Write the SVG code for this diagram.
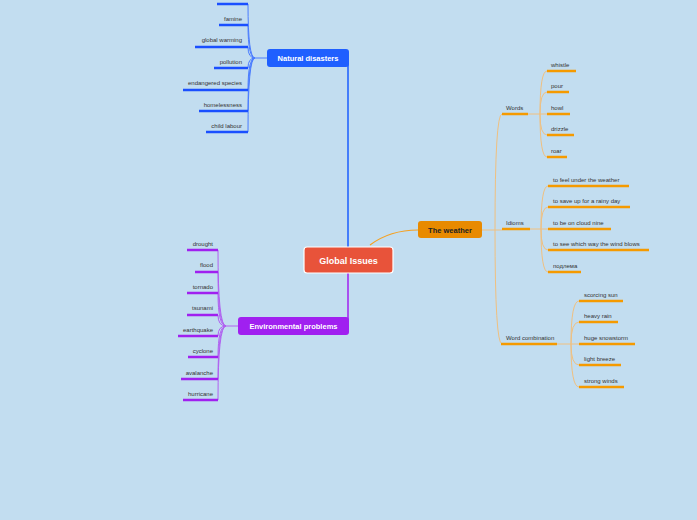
<svg xmlns="http://www.w3.org/2000/svg" width="697" height="520" viewBox="0 0 697 520">
<style>
text{font-family:"Liberation Sans",Arial,sans-serif;font-size:6px;fill:#333}
.b{stroke:#1a4fff;stroke-width:2.5;fill:none}
.p{stroke:#a020f0;stroke-width:2.5;fill:none}
.o{stroke:#f59a00;stroke-width:2.5;fill:none}
.bl{stroke:#4a7cff;stroke-width:1;fill:none}
.pl{stroke:#b060f0;stroke-width:1;fill:none}
.ol{stroke:#f0c080;stroke-width:1;fill:none}
.r{text-anchor:end}
.t{font-weight:bold;font-size:7.5px;fill:#fff;text-anchor:middle}
</style>
<rect width="697" height="520" fill="#c2ddf0"/>
<g id="connectors">
<path d="M348 247V58" stroke="#1a5cff" stroke-width="1.5" fill="none"/>
<path d="M348 273V326" stroke="#a020f0" stroke-width="1.5" fill="none"/>
<path d="M370 245Q390 230 418 230" stroke="#f5a020" stroke-width="1.2" fill="none"/>
<path class="bl" d="M267 58H255M255 58Q248 58 248 4M255 58Q248 58 248 25M255 58Q248 58 248 47M255 58Q248 58 248 68M255 58Q248 58 248 90M255 58Q248 58 248 111M255 58Q248 58 248 132"/>
<path class="pl" d="M238 326H226M226 326Q218 326 218 250M226 326Q218 326 218 272M226 326Q218 326 218 293M226 326Q218 326 218 315M226 326Q218 326 218 336M226 326Q218 326 218 357M226 326Q218 326 218 379M226 326Q218 326 218 400"/>
<path class="ol" d="M482 230H495M495 230Q495 114 502 114M495 230H502M495 230Q495 344 502 344"/>
<path class="ol" d="M528 114H540M540 114Q540 71 547 71M540 114Q540 92 547 92M540 114H547M540 114Q540 135 547 135M540 114Q540 157 547 157"/>
<path class="ol" d="M530 229H541M541 229Q541 186 548 186M541 229Q541 207 548 207M541 229H548M541 229Q541 250 548 250M541 229Q541 272 548 272"/>
<path class="ol" d="M557 344H571M571 344Q571 301 579 301M571 344Q571 322 579 322M571 344H579M571 344Q571 365 579 365M571 344Q571 387 579 387"/>
<path class="b" d="M217 4H248M219 25H248M195 47H248M214 68H248M183 90H248M199 111H248M206 132H248"/>
<path class="p" d="M187 250H218M195 272H218M187 293H218M187 315H218M178 336H218M188 357H218M181 379H218M183 400H218"/>
<path class="o" d="M502 114H528M502 229H530M501 344H557"/>
<path class="o" d="M547 71H576M547 92H569M547 114H570M547 135H574M547 157H567"/>
<path class="o" d="M548 186H629M548 207H630M548 229H611M548 250H649M548 272H581"/>
<path class="o" d="M579 301H623M579 322H618M579 344H635M579 365H621M579 387H624"/>
</g>
<g id="n-global"><rect x="304" y="247" width="89" height="26" rx="3" fill="#e8533a" stroke="#fff" stroke-width="1.2"/><text x="348.5" y="263.5" class="t" style="font-size:9px">Global Issues</text></g>
<g id="n-natural"><rect x="267" y="49" width="82" height="18" rx="3" fill="#1f5fff"/><text x="308" y="61" class="t">Natural disasters</text></g>
<g id="n-env"><rect x="238" y="317" width="111" height="18" rx="3" fill="#a020f0"/><text x="293.5" y="329" class="t">Environmental problems</text></g>
<g id="n-weather"><rect x="418" y="221" width="64" height="17" rx="3" fill="#e88a00"/><text x="450" y="232.5" class="t" style="fill:#222">The weather</text></g>
<g id="blue-leaves">
<text x="242" y="21" class="r">famine</text><text x="242" y="42" class="r">global warming</text><text x="242" y="64" class="r">pollution</text><text x="242" y="85" class="r">endangered species</text><text x="242" y="107" class="r">homelessness</text><text x="242" y="128" class="r">child labour</text>
</g>
<g id="purple-leaves">
<text x="213" y="246" class="r">drought</text><text x="213" y="267" class="r">flood</text><text x="213" y="289" class="r">tornado</text><text x="213" y="310" class="r">tsunami</text><text x="213" y="332" class="r">earthquake</text><text x="213" y="353" class="r">cyclone</text><text x="213" y="375" class="r">avalanche</text><text x="213" y="396" class="r">hurricane</text>
</g>
<g id="orange-leaves">
<text x="506" y="110">Words</text><text x="506" y="225">Idioms</text><text x="506" y="340">Word combination</text>
<text x="551" y="67">whistle</text><text x="551" y="88">pour</text><text x="551" y="110">howl</text><text x="551" y="131">drizzle</text><text x="551" y="153">roar</text>
<text x="553" y="182">to feel under the weather</text><text x="553" y="203">to save up for a rainy day</text><text x="553" y="225">to be on cloud nine</text><text x="553" y="246">to see which way the wind blows</text><text x="553" y="268">подлема</text>
<text x="584" y="297">scorcing sun</text><text x="584" y="318">heavy rain</text><text x="584" y="340">huge snowstorm</text><text x="584" y="361">light breeze</text><text x="584" y="383">strong winds</text>
</g>
</svg>
